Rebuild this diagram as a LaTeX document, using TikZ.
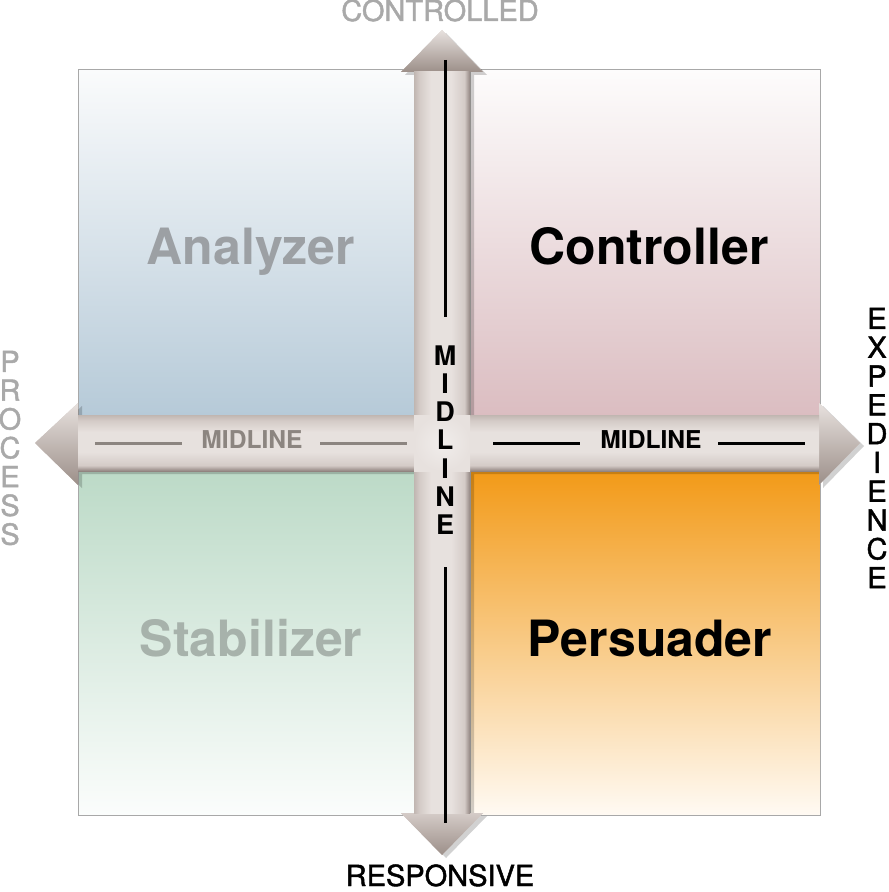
\documentclass[tikz,border=0pt]{standalone}
\usepackage{fontspec}
\setmainfont{TeX Gyre Heros}
\newfontfamily\axisfont[FakeBold=1.5]{TeX Gyre Heros}
\definecolor{boxline}{HTML}{A8A8A8}
\definecolor{armlight}{HTML}{E7E1DE}
\definecolor{armmid}{HTML}{D4CBC7}
\definecolor{armedge}{HTML}{C0B6B1}
\definecolor{armdark}{HTML}{918480}
\definecolor{headdark}{HTML}{9C8F89}
\definecolor{fadedtext}{HTML}{A9A9A9}
\definecolor{midgray}{HTML}{8C8580}
\definecolor{analyzertop}{HTML}{FAFBFC}
\definecolor{analyzerbot}{HTML}{B6CAD8}
\definecolor{controllertop}{HTML}{FDFCFC}
\definecolor{controllerbot}{HTML}{DBBDC1}
\definecolor{stabilizertop}{HTML}{BCDAC7}
\definecolor{stabilizerbot}{HTML}{FBFDFC}
\definecolor{stabilizertext}{HTML}{A7B2AB}
\definecolor{analyzertext}{HTML}{9CA0A4}
\definecolor{persuadertop}{HTML}{F29A18}
\definecolor{persuaderbot}{HTML}{FFFAF3}
\pgfdeclarehorizontalshading{shaftv}{100bp}{color(0bp)=(armedge); color(25bp)=(armedge);
    color(30bp)=(armmid); color(40bp)=(armlight); color(58bp)=(armlight);
    color(70bp)=(armmid); color(75bp)=(armdark); color(100bp)=(armdark)}
\pgfdeclareverticalshading{shafth}{100bp}{color(0bp)=(armdark); color(25bp)=(armdark);
    color(30bp)=(armmid); color(42bp)=(armlight); color(60bp)=(armlight);
    color(70bp)=(armmid); color(75bp)=(armedge); color(100bp)=(armedge)}
\tikzset{
    quadrant/.style={draw=boxline, line width=0.5pt},
    title/.style={font=\fontsize{25}{30}\selectfont\bfseries, anchor=base, inner sep=0pt},
    axislabel/.style={font=\axisfont\fontsize{14.5}{17}\selectfont, anchor=base, inner sep=0pt},
    stacked/.style={align=center, inner sep=0pt,
                    font=\axisfont\fontsize{14.5}{14.4}\selectfont},
    midword/.style={font=\fontsize{12.3}{14}\selectfont\bfseries, inner sep=0pt},
    midrule/.style={line width=1.5pt},
}
\newcommand{\crosspath}{
    (442,30) -- (483,72) -- (470,72) -- (470,415) -- (819,415) -- (819,403)
    -- (860,443) -- (819,485) -- (819,471) -- (470,471) -- (470,813)
    -- (483,813) -- (442,855) -- (401,813) -- (414,813) -- (414,471)
    -- (78,471) -- (78,485) -- (35,443) -- (78,403) -- (78,415)
    -- (414,415) -- (414,72) -- (401,72) -- cycle
}

\begin{document}
\begin{tikzpicture}[x=0.5pt, y=-0.5pt]
    \path[use as bounding box] (0,0) rectangle (888,892);

    % quadrants
    \shadedraw[quadrant, top color=analyzertop, bottom color=analyzerbot] (78,70) rectangle (414,415);
    \shadedraw[quadrant, top color=controllertop, bottom color=controllerbot] (470,70) rectangle (820,415);
    \shadedraw[quadrant, top color=stabilizertop, bottom color=stabilizerbot] (78,471) rectangle (414,815);
    \shadedraw[quadrant, top color=persuadertop, bottom color=persuaderbot] (470,471) rectangle (820,815);

    \node[title, text=analyzertext] (analyzer) at (251,265) {Analyzer};
    \node[title] (controller) at (649,265) {Controller};
    \node[title, text=stabilizertext] (stabilizer) at (251,656) {Stabilizer};
    \node[title] (persuader) at (650,656) {Persuader};

    % the cross
    \fill[black, opacity=.18, shift={(4,3)}] \crosspath;
    \fill[armmid] \crosspath;
    \shade[top color=armlight, bottom color=headdark] (442,30) -- (483,72) -- (401,72) -- cycle;
    \shade[top color=armmid, bottom color=headdark] (401,813) -- (483,813) -- (442,855) -- cycle;
    \shade[top color=armlight, bottom color=headdark] (78,403) -- (78,485) -- (35,443) -- cycle;
    \shade[top color=armlight, bottom color=headdark] (819,403) -- (860,443) -- (819,485) -- cycle;
    \shade[shading=shafth] (78,415) rectangle (819,471);
    \shade[shading=shaftv] (414,72) rectangle (470,415);
    \shade[shading=shaftv] (414,471) rectangle (470,813);
    \shade[inner color=armlight!60!white, outer color=armlight] (414,415) rectangle (470,471);

    % midlines
    \draw[midrule] (445,60) -- (445,317);
    \draw[midrule] (445,567) -- (445,823);
    \draw[midrule, midgray] (95,443) -- (182,443);
    \draw[midrule, midgray] (320,443) -- (407,443);
    \draw[midrule] (493,443) -- (580,443);
    \draw[midrule] (718,443) -- (805,443);
    \node[midword, text=midgray] (midleft) at (252,440) {MIDLINE};
    \node[midword] (midright) at (651,440) {MIDLINE};
    \node[stacked, font=\fontsize{13.5}{14.1}\selectfont\bfseries] (midvert) at (445,440)
        {M\\I\\D\\L\\I\\N\\E};

    % axis labels
    \node[axislabel, text=fadedtext] (controlled) at (440,21) {CONTROLLED};
    \node[axislabel] (responsive) at (440,886) {RESPONSIVE};
    \node[stacked, text=fadedtext] (process) at (10,448) {P\\R\\O\\C\\E\\S\\S};
    \node[stacked] (expedience) at (877,448) {E\\X\\P\\E\\D\\I\\E\\N\\C\\E};

\end{tikzpicture}
\end{document}
